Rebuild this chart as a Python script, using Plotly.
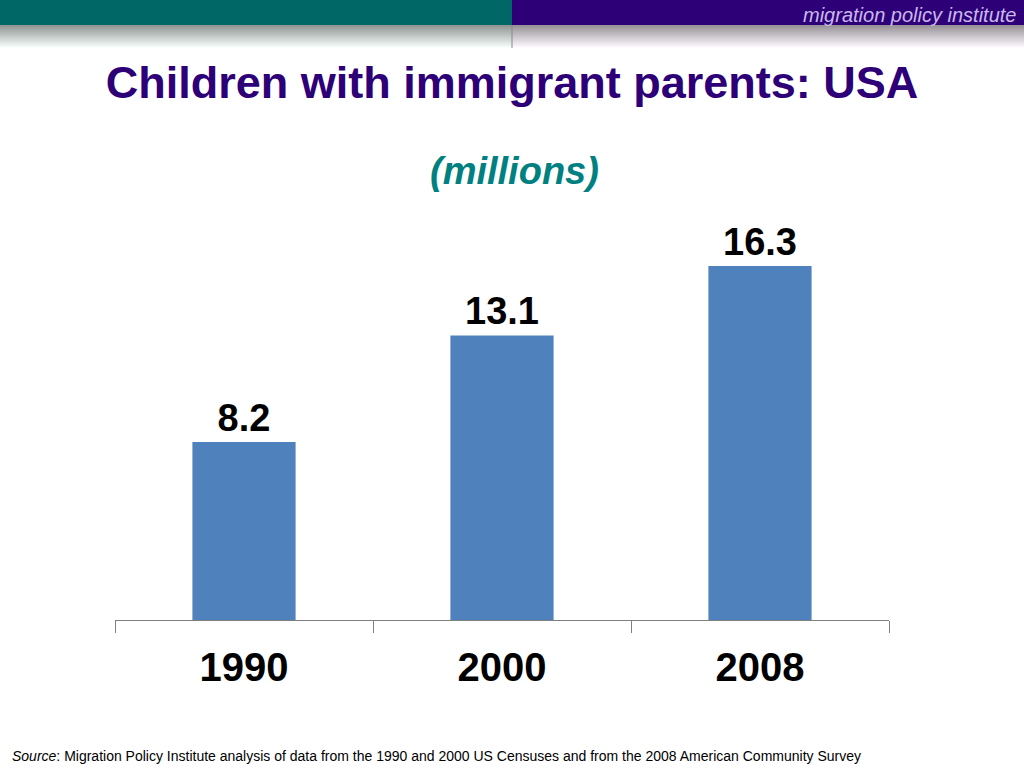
import plotly.graph_objects as go

years = ["1990", "2000", "2008"]
children_millions = [8.2, 13.1, 16.3]
value_labels = ["8.2", "13.1", "16.3"]

W, H = 1024, 768
L, R, T, B = 115, 135, 200, 148
PW, PH = W - L - R, H - T - B

def px(x):
    return (x - L) / PW

def py(y):
    return (H - B - y) / PH

FONT = "Liberation Sans, Arial, sans-serif"
TEAL = "#006666"
TEAL_TXT = "#008080"
PURPLE = "#2E0078"

fig = go.Figure()
fig.add_trace(go.Bar(
    x=years, y=children_millions, text=value_labels,
    textposition="outside", cliponaxis=False,
    textfont=dict(family=FONT, size=38, color="black", weight="bold"),
    marker=dict(color="#4F81BD", line=dict(width=0)),
    width=0.40,
))

shapes = []
# banner
shapes.append(dict(type="rect", xref="paper", yref="paper", x0=px(0), x1=px(512), y0=py(25), y1=py(0),
                   fillcolor=TEAL, line=dict(width=0), layer="above"))
shapes.append(dict(type="rect", xref="paper", yref="paper", x0=px(512), x1=px(1024), y0=py(25), y1=py(0),
                   fillcolor=PURPLE, line=dict(width=0), layer="above"))
# gradient
n = 23
for i in range(n):
    f = i / (n - 1)
    g = int(150 + (255 - 150) * f)
    gl = f"rgb({g-6},{g},{g-3})"
    gr = f"rgb({g},{g-4},{g+2 if g < 253 else 255})"
    y0 = 25 + i
    shapes.append(dict(type="rect", xref="paper", yref="paper", x0=px(0), x1=px(512), y0=py(y0 + 1), y1=py(y0),
                       fillcolor=gl, line=dict(width=0), layer="above"))
    shapes.append(dict(type="rect", xref="paper", yref="paper", x0=px(512), x1=px(1024), y0=py(y0 + 1), y1=py(y0),
                       fillcolor=gr, line=dict(width=0), layer="above"))
shapes.append(dict(type="line", xref="paper", yref="paper", x0=px(512), x1=px(512), y0=py(48), y1=py(25),
                   line=dict(color="#888888", width=1), layer="above"))

annotations = [
    dict(text="migration policy institute", xref="paper", yref="paper", x=px(1018), y=py(15),
         xanchor="right", yanchor="middle", showarrow=False,
         font=dict(family=FONT, size=20, color="#C9B8EC", style="italic")),
    dict(text="(millions)", xref="paper", yref="paper", x=px(514), y=py(171),
         xanchor="center", yanchor="middle", showarrow=False,
         font=dict(family=FONT, size=38, color=TEAL_TXT, style="italic", weight="bold")),
    dict(text="<i>Source</i>: Migration Policy Institute analysis of data from the 1990 and 2000 US Censuses and from the 2008 American Community Survey",
         xref="paper", yref="paper", x=px(10), y=py(756),
         xanchor="left", yanchor="middle", showarrow=False,
         font=dict(family=FONT, size=14, color="black")),
]

fig.update_layout(
    width=W, height=H,
    margin=dict(l=L, r=R, t=T, b=B, pad=0),
    paper_bgcolor="white", plot_bgcolor="white",
    showlegend=False,
    bargap=0.6,
    title=dict(text="Children with immigrant parents: USA", x=512 / W, xref="container", xanchor="center",
               y=1 - 82 / H, yref="container", yanchor="middle",
               font=dict(family=FONT, size=45, color=PURPLE, weight="bold")),
    shapes=shapes,
    annotations=annotations,
    xaxis=dict(type="category", range=[-0.5, 2.5], showline=True, linecolor="#7F7F7F", linewidth=1,
               ticks="outside", ticklen=12, tickcolor="#7F7F7F", tickwidth=1, tickson="boundaries",
               ticklabelstandoff=12, showgrid=False, zeroline=False,
               tickfont=dict(family=FONT, size=40, color="black", weight="bold")),
    yaxis=dict(range=[0, PH / 21.72], visible=False, showgrid=False, zeroline=False),
)

fig.write_html("out.html")
